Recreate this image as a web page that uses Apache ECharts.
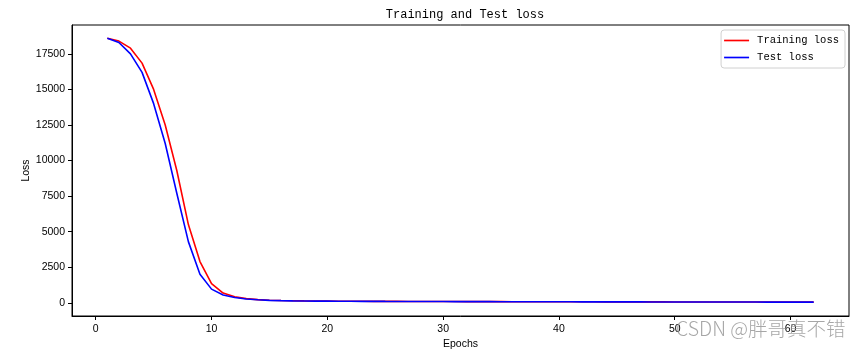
<!DOCTYPE html>
<html><head><meta charset="utf-8">
<script src="https://cdn.jsdelivr.net/npm/echarts@6/dist/echarts.min.js"></script>
<style>html,body{margin:0;padding:0;background:#fff}#c{width:865px;height:355px}</style>
</head><body><div id="c"></div>
<script>
var epochs = [];
for (var i = 1; i <= 62; i++) epochs.push(i);
var trainingLoss = [18600,18400,17900,16850,15000,12500,9300,5500,2900,1350,680,420,290,220,180,158,142,131,123,117,112,108,105,101,99,96,94,91,89,88,86,84,82,81,79,77,76,74,73,71,70,68,67,66,64,63,62,61,60,58,57,56,55,54,53,52,51,50,49,49,48,47];
var testLoss = [18600,18300,17500,16200,14000,11200,7700,4300,2000,960,550,370,270,210,172,150,136,126,119,113,108,104,101,98,95,93,90,88,86,85,83,81,79,78,76,75,73,72,70,69,67,66,65,63,62,61,60,59,58,57,56,54,53,52,52,51,50,49,48,47,47,46];
var xTicks = [0,10,20,30,40,50,60];
var yTicks = [0,2500,5000,7500,10000,12500,15000,17500];

var chart = echarts.init(document.getElementById('c'));
var tickFont = {fontFamily:'Liberation Sans', fontSize:10.5, color:'#000'};
chart.setOption({
  animation:false,
  title:{text:'Training and Test loss', left:460, top:4, textAlign:'center',
    textStyle:{fontFamily:'Liberation Mono', fontSize:12, fontWeight:'normal', color:'#000'}},
  legend:{data:['Training loss','Test loss'], orient:'vertical', right:20, top:30,
    icon:'path://M0,0 L30,0 L30,2 L0,2 Z', itemWidth:25, itemHeight:2, itemGap:6,
    borderColor:'#d0d0d0', borderWidth:1, borderRadius:3, padding:[5,6,5,3],
    textStyle:{fontFamily:'Liberation Mono', fontSize:10.5, color:'#000', padding:[0,0,0,3]}},
  grid:{left:72, right:16, top:25, bottom:39, show:true, borderColor:'#000', borderWidth:1,
    containLabel:false, outerBoundsMode:'none'},
  xAxis:{type:'value', min:-2.05, max:65.05, name:'Epochs', nameLocation:'middle', nameGap:23,
    nameMoveOverlap:false,
    nameTextStyle:{fontFamily:'Liberation Sans', fontSize:10.5, color:'#000'},
    axisLine:{show:true, onZero:false, lineStyle:{color:'#000'}},
    axisTick:{show:true, length:4, customValues:xTicks, lineStyle:{color:'#000'}},
    axisLabel:Object.assign({customValues:xTicks, margin:8}, tickFont),
    splitLine:{show:false}},
  yAxis:{type:'value', min:-930, max:19530, name:'Loss', nameLocation:'middle', nameGap:40, nameRotate:90,
    nameMoveOverlap:false,
    nameTextStyle:{fontFamily:'Liberation Sans', fontSize:10.5, color:'#000'},
    axisLine:{show:true, onZero:false, lineStyle:{color:'#000'}},
    axisTick:{show:true, length:4, customValues:yTicks, lineStyle:{color:'#000'}},
    axisLabel:Object.assign({customValues:yTicks, margin:7, formatter:function(v){return String(v);}}, tickFont),
    splitLine:{show:false}},
  series:[
    {name:'Training loss', type:'line', showSymbol:false, data:epochs.map(function(e,i){return [e,trainingLoss[i]];}),
      lineStyle:{color:'#ff0000', width:1.6}, itemStyle:{color:'#ff0000'}},
    {name:'Test loss', type:'line', showSymbol:false, data:epochs.map(function(e,i){return [e,testLoss[i]];}),
      lineStyle:{color:'#0000ff', width:1.6}, itemStyle:{color:'#0000ff'}}
  ],
  graphic:[{type:'text', left:676, top:319, z:100,
    style:{text:'CSDN @胖哥真不错', fontFamily:'Noto Sans CJK SC', fontSize:19.5, fontWeight:300, fill:'rgba(150,150,150,0.85)'}}]
});
</script></body></html>
